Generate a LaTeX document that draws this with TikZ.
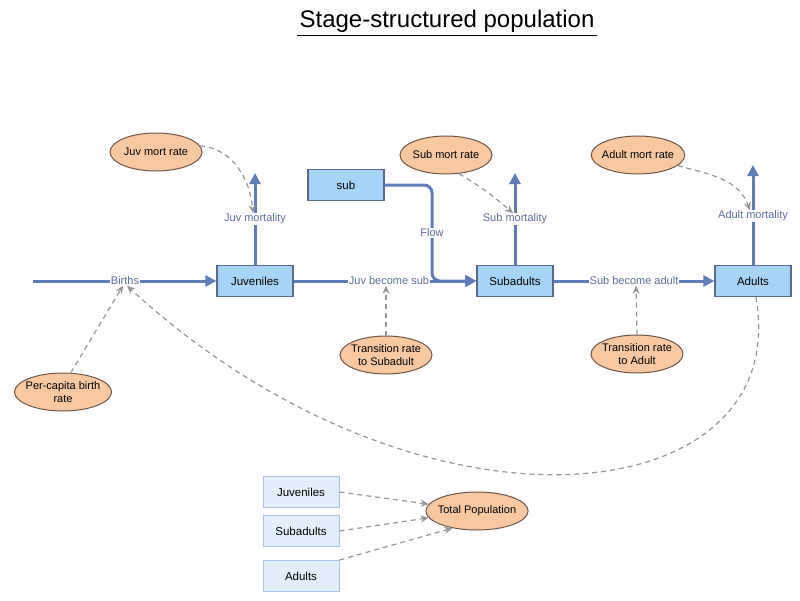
\documentclass[tikz,border=0pt]{standalone}
\usepackage{fontspec}
\setmainfont{Liberation Sans}
\usetikzlibrary{arrows.meta,shapes.geometric}
\definecolor{boxfill}{RGB}{166,211,246}
\definecolor{boxline}{RGB}{90,105,135}
\definecolor{flowcol}{RGB}{95,125,185}
\definecolor{ellfill}{RGB}{248,200,162}
\definecolor{ellline}{RGB}{110,85,70}
\definecolor{lightfill}{RGB}{226,238,250}
\definecolor{lightline}{RGB}{168,196,224}
\definecolor{labcol}{RGB}{95,110,150}
\definecolor{infocol}{RGB}{150,150,150}
\tikzset{
  stock/.style={draw=boxline, line width=1.2pt, fill=boxfill, minimum width=76pt, minimum height=31pt, inner sep=0pt, font=\fontsize{11.5}{13.5}\selectfont},
  ghost/.style={draw=lightline, line width=1pt, fill=lightfill, minimum width=76pt, minimum height=31pt, inner sep=0pt, font=\fontsize{11.5}{13.5}\selectfont},
  param/.style={ellipse, draw=ellline, line width=1pt, fill=ellfill, minimum width=92pt, minimum height=38pt, inner xsep=-3pt, inner ysep=-1pt, align=center, font=\fontsize{11}{13}\selectfont},
  flowline/.style={draw=flowcol, line width=3pt, -{Triangle[length=11pt,width=11pt]}},
  flowlabel/.style={fill=white, text=labcol, inner sep=0.5pt, font=\fontsize{11}{13}\selectfont},
  info/.style={draw=infocol, line width=1.2pt, dash pattern=on 5pt off 4pt, -{Stealth[length=8pt,width=7pt]}},
}
\begin{document}
\begin{tikzpicture}[x=1pt,y=-1pt]
\useasboundingbox (0,0) rectangle (800,600);
\fill[white] (0,0) rectangle (800,600);
% title
\node[font=\fontsize{24}{28}\selectfont, inner sep=0pt] (title) at (447,21) {Stage-structured population};
\draw[line width=1pt] (297,35) -- (597,35);
% stocks
\node[stock] (juv) at (255,281) {Juveniles};
\node[stock] (sad) at (515,281) {Subadults};
\node[stock] (adu) at (753,281) {Adults};
\node[stock] (sub) at (346,185) {sub};
% parameters
\node[param] (jmr) at (156,152) {Juv mort rate};
\node[param] (smr) at (446,155) {Sub mort rate};
\node[param] (amr) at (638,155) {Adult mort rate};
\node[param] (tsub) at (386,355) {Transition rate\\to Subadult};
\node[param] (tadu) at (637,354) {Transition rate\\to Adult};
\node[param] (pcb) at (63,392) {Per-capita birth\\rate};
\node[param] (tot) at (477,511) {Total Population};
% ghost stocks
\node[ghost] (gj) at (301,492) {Juveniles};
\node[ghost] (gs) at (301,531) {Subadults};
\node[ghost] (ga) at (301,576) {Adults};
% coordinates
\coordinate (bsrc) at (33,281);
\coordinate (jtop) at (255,173);
\coordinate (stop) at (515,173);
\coordinate (atop) at (753,165);
\coordinate (fcorner) at (432,281);
% flows
\draw[flowline] (bsrc) -- (juv.west);
\draw[flowline] (juv.north) -- (jtop);
\draw[flowline] (juv.east) -- (sad.west);
\draw[flowline, rounded corners=8pt] (sub.east) -| (fcorner) -- (sad.west);
\draw[flowline] (sad.north) -- (stop);
\draw[flowline] (sad.east) -- (adu.west);
\draw[flowline] (adu.north) -- (atop);
% flow labels
\node[flowlabel] (births) at (125,281) {Births};
\node[flowlabel] (jmort) at (255,219) {Juv mortality};
\node[flowlabel] (jbs) at (389,281) {Juv become sub};
\node[flowlabel] (flow) at (432,233) {Flow};
\node[flowlabel] (smort) at (515,219) {Sub mortality};
\node[flowlabel] (sba) at (634,281) {Sub become adult};
\node[flowlabel] (amort) at (753,216) {Adult mortality};
% info links
\draw[info] (jmr.8) to[out=-5, in=95] ([xshift=-2pt]jmort.north);
\draw[info] (smr.-55) to[bend left=5] ([xshift=-2pt]smort.north);
\draw[info] (amr.-15) to[out=-15, in=110] ([xshift=-3pt]amort.north);
\draw[info] (tsub.north) -- ([xshift=-3pt]jbs.south);
\draw[info] (tadu.north) -- ([xshift=2pt]sba.south);
\draw[info] (pcb.68) -- ([xshift=-2pt]births.south);
\draw[info] (adu.-80) .. controls (795,515) and (420,555) .. ([xshift=2pt]births.south);
\draw[info] (gj.east) -- (tot.172);
\draw[info] (gs.east) -- (tot.188);
\draw[info] (ga.north east) -- (tot.215);
\end{tikzpicture}
\end{document}
